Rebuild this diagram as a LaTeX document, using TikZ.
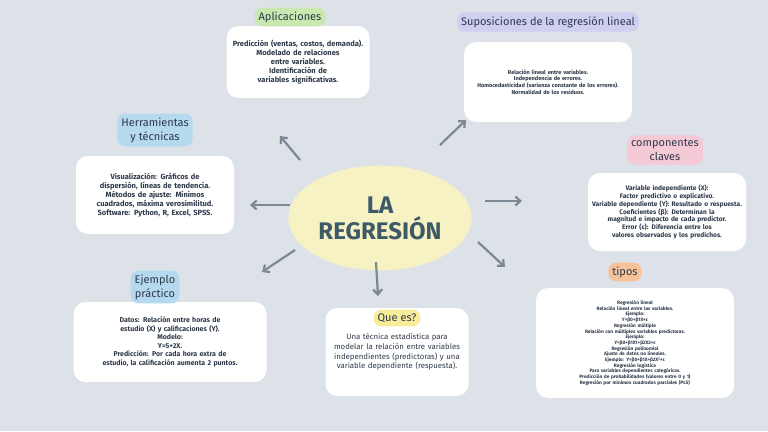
\documentclass[tikz,border=0pt]{standalone}
\usepackage{fontspec}
\setmainfont{Fira Sans}
\usetikzlibrary{arrows.meta,shapes.geometric}
\definecolor{bg}{HTML}{DDE1E8}
\definecolor{ink}{HTML}{2E3A4A}
\definecolor{ctr}{HTML}{3E5A66}
\definecolor{blob}{HTML}{F7F2C4}
\definecolor{pgreen}{HTML}{C9E8B0}
\definecolor{plav}{HTML}{CFCFF2}
\definecolor{pblue}{HTML}{B5D9EE}
\definecolor{ppink}{HTML}{F5C9D6}
\definecolor{pyel}{HTML}{F6EC9A}
\definecolor{porange}{HTML}{F6C29A}
\definecolor{arr}{HTML}{7C8894}
\begin{document}
\hyphenpenalty=10000 \exhyphenpenalty=10000
\begin{tikzpicture}[x=1pt,y=-1pt,
 box/.style={fill=white,rounded corners=12pt,align=center,text=ink,inner sep=4pt,font=\fontsize{7.5}{9}\selectfont\bfseries},
 pill/.style={rounded corners=8pt,align=center,text=ink,inner sep=4pt,font=\fontsize{11}{14}\selectfont},
 con/.style={draw=arr,line width=2.2pt,-{Straight Barb[length=5pt,width=9pt]}}]
\useasboundingbox (0,0) rectangle (768,431);
\fill[bg] (0,0) rectangle (768,431);
\node[fill=blob,ellipse,minimum width=150pt,minimum height=105pt,align=center,text=ctr,font=\fontsize{24}{26}\selectfont\bfseries] (c) at (380,218) {LA\\REGRESIÓN};
% Aplicaciones
\node[box,text width=135pt,minimum height=72pt] (b1) at (298,62) {Predicción (ventas, costos, demanda).\\Modelado de relaciones entre variables.\\Identificación de variables significativas.};
\node[pill,fill=pgreen] (p1) at (290,17) {Aplicaciones};
% Suposiciones
\node[box,text width=160pt,minimum height=80pt,font=\fontsize{5.6}{6.6}\selectfont\bfseries] (b2) at (548,82) {Relación lineal entre variables.\\Independencia de errores.\\Homocedasticidad (varianza constante de los errores).\\Normalidad de los residuos.};
\node[pill,fill=plav] (p2) at (548,22) {Suposiciones de la regresión lineal};
% Herramientas
\node[box,text width=150pt,minimum height=78pt] (b3) at (155,195) {Visualización: Gráficos de dispersión, líneas de tendencia.\\Métodos de ajuste: Mínimos cuadrados, máxima verosimilitud.\\Software: Python, R, Excel, SPSS.};
\node[pill,fill=pblue] (p3) at (155,130) {Herramientas\\y técnicas};
% componentes
\node[box,text width=150pt,minimum height=78pt,font=\fontsize{6.6}{7.8}\selectfont\bfseries] (b4) at (667,212) {Variable independiente (X): Factor predictivo o explicativo.\\Variable dependiente (Y): Resultado o respuesta.\\Coeficientes (β): Determinan la magnitud e impacto de cada predictor.\\Error (ε): Diferencia entre los valores observados y los predichos.};
\node[pill,fill=ppink] (p4) at (665,150) {componentes\\claves};
% Ejemplo
\node[box,text width=185pt,minimum height=80pt,font=\fontsize{7}{8.5}\selectfont\bfseries] (b5) at (170,342) {Datos: Relación entre horas de estudio (X) y calificaciones (Y).\\Modelo:\\Y=5+2X.\\Predicción: Por cada hora extra de estudio, la calificación aumenta 2 puntos.};
\node[pill,fill=pblue] (p5) at (155,287) {Ejemplo\\práctico};
% Que es
\node[box,text width=135pt,minimum height=88pt,font=\fontsize{7.8}{9.6}\selectfont] (b6) at (397,352) {Una técnica estadística para modelar la relación entre variables independientes (predictoras) y una variable dependiente (respuesta).};
\node[pill,fill=pyel] (p6) at (397,318) {Que es?};
% tipos
\node[box,text width=190pt,minimum height=110pt,font=\fontsize{4.8}{5.7}\selectfont\bfseries] (b7) at (635,343) {Regresión lineal\\Relación lineal entre las variables.\\Ejemplo:\\Y=β0+β1X+ε\\Regresión múltiple\\Relación con múltiples variables predictoras.\\Ejemplo:\\Y=β0+β1X1+β2X2+ε\\Regresión polinomial\\Ajuste de datos no lineales.\\Ejemplo: Y=β0+β1X+β2X²+ε\\Regresión logística\\Para variables dependientes categóricas.\\Predicción de probabilidades (valores entre 0 y 1)\\Regresión por mínimos cuadrados parciales (PLS)};
\node[pill,fill=porange] (p7) at (625,272) {tipos};
% connectors
\coordinate (s1) at (300,160); \coordinate (e1) at (280,136);
\coordinate (s2) at (440,145); \coordinate (e2) at (466,120);
\coordinate (s3) at (290,205); \coordinate (e3) at (250,205);
\coordinate (s4) at (485,201); \coordinate (e4) at (522,201);
\coordinate (s5) at (295,250); \coordinate (e5) at (262,272);
\coordinate (s6) at (376,262); \coordinate (e6) at (378,296);
\coordinate (s7) at (478,242); \coordinate (e7) at (505,267);
\foreach \i in {1,...,7} {\draw[con] (s\i) -- (e\i);}
\end{tikzpicture}
\end{document}
